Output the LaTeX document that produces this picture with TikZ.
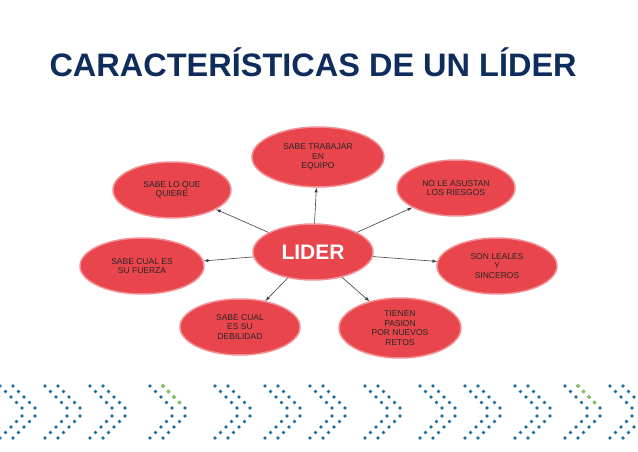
\documentclass[tikz,border=0pt]{standalone}
\usepackage{fontspec}
\setmainfont{Liberation Sans}
\usetikzlibrary{shapes.geometric}
\definecolor{navy}{HTML}{0F2D5C}
\definecolor{ered}{HTML}{E9454C}
\definecolor{dotblue}{HTML}{1F6E9C}
\definecolor{dotgreen}{HTML}{8DC63F}
\begin{document}
\begin{tikzpicture}[x=1pt,y=-1pt,
  bub/.style={ellipse,fill=ered,draw=ered!60,line width=1.5pt,minimum width=#1,minimum height=56pt,inner sep=0pt,align=center,font=\fontsize{8.5}{9.5}\selectfont\color{black!85}},
  bub/.default=118pt,
  arr/.style={-latex,draw=black!75,line width=0.6pt}]
\useasboundingbox (0,0) rectangle (638,452);
\node[anchor=west,font=\bfseries\fontsize{32.5}{36}\selectfont,text=navy] (title) at (46,62) {CARACTERÍSTICAS DE UN LÍDER};
\node[bub=120pt,minimum height=56pt,font=\bfseries\fontsize{21}{22}\selectfont\color{white}] (c) at (313,252) {LIDER};
\node[bub=132pt,minimum height=60pt] (t) at (318,157) {SABE TRABAJAR\\EN\\EQUIPO};
\node[bub] (tl) at (172,190) {SABE LO QUE\\QUIERE};
\node[bub] (tr) at (456,188) {NO LE ASUSTAN\\LOS RIESGOS};
\node[bub=124pt] (l) at (142,266) {SABE CUAL ES\\SU FUERZA};
\node[bub=120pt] (r) at (497,266) {SON LEALES\\Y\\SINCEROS};
\node[bub=120pt] (bl) at (240,327) {SABE CUAL\\ES SU\\DEBILIDAD};
\node[bub=122pt,minimum height=60pt] (br) at (400,328) {TIENEN\\PASION\\POR NUEVOS\\RETOS};
\foreach \n in {t,tl,tr,l,r,bl,br} \draw[arr] (c) -- (\n);
% dotted chevrons
\foreach \x/\k in {0/0,45/1,90/0,150/2,215/0,265/1,310/0,365/1,420/0,465/1,515/0,565/2,610/0} {
  \foreach \o in {0,13} {
    \foreach \i in {0,...,4} {
      \fill[dotblue] (\x+\o+\i*5.5,386+\i*5.5) circle (1.8);
      \fill[dotblue] (\x+\o+22-\i*5.5,416+\i*5.5) circle (1.8);
    }
  }
  \ifnum\k=2
    \foreach \i in {0,...,3} \fill[dotgreen] (\x+13+\i*5.5,386+\i*5.5) circle (1.9);
  \fi
}
\end{tikzpicture}
\end{document}
